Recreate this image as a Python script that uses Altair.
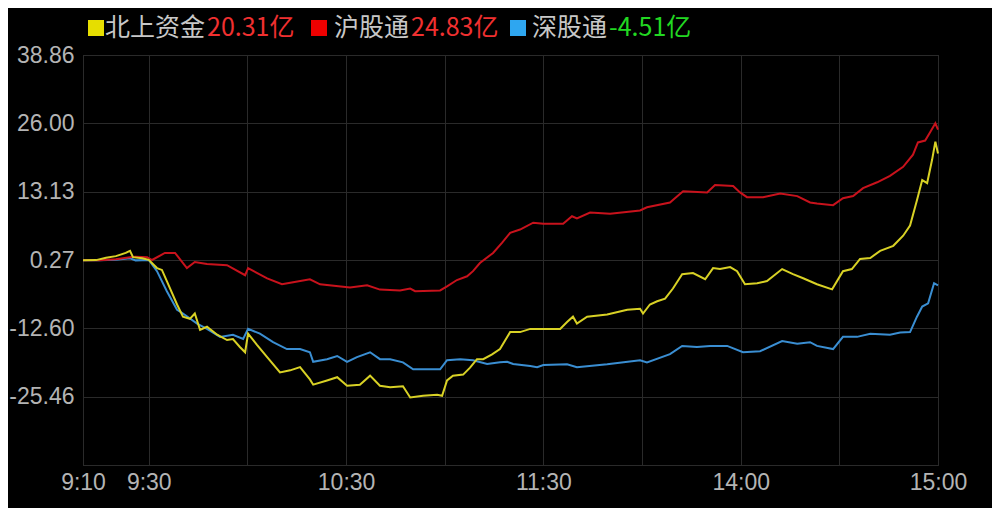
import altair as alt
import pandas as pd

# x: minutes since 9:10 on a compressed trading-time axis (11:30 and 13:00 coincide at 140)
# values in 亿元
north_t = [0, 4, 7, 10, 13, 14.3, 15.2, 18, 20, 22.5, 24, 25.5, 28.6, 30.4, 32.5, 34, 35.6, 37.7,
           40.8, 43.8, 45.6, 47.7, 49.3, 50.2, 52.9, 56, 59.9, 63, 66, 69, 70, 74.2, 77.3, 80.3,
           84.2, 87.3, 90.3, 93.4, 97.3, 99.5, 103.4, 107.7, 109.2, 110.7, 112.5, 115.6, 117.7,
           119.8, 121.7, 124.4, 126.8, 129.9, 132.9, 136, 140, 145.1, 147.2, 149, 150.2, 153.3,
           159.4, 165.5, 169.4, 170.3, 172.4, 174.6, 177, 179.4, 182.2, 185.5, 189.2, 191.6,
           193.7, 196.8, 198.9, 201.3, 205, 208, 212.6, 215.9, 219, 223.2, 227.8, 231.1, 233.8,
           236.3, 239.4, 242.4, 246.4, 249.4, 251.5, 253.6, 255.2, 256.7, 258.2, 259.2, 260]
north_v = [0.2, 0.25, 0.7, 1.0, 1.6, 2.0, 0.8, 0.6, 0.3, -1.25, -1.6, -3.7, -8.1, -10.4, -10.8,
           -9.8, -12.9, -12.3, -13.8, -14.8, -14.6, -16.1, -17.1, -13.6, -15.7, -18.0, -20.9,
           -20.5, -19.9, -22.2, -23.2, -22.4, -21.8, -23.4, -23.2, -21.5, -23.4, -23.7, -23.5,
           -25.6, -25.3, -25.1, -25.3, -22.4, -21.5, -21.3, -20.0, -18.4, -18.4, -17.5, -16.5,
           -13.3, -13.3, -12.7, -12.7, -12.7, -11.4, -10.4, -11.7, -10.4, -10.0, -9.1, -8.9,
           -9.8, -8.1, -7.5, -7.0, -5.1, -2.4, -2.2, -3.35, -1.25, -1.44, -1.06, -1.83, -4.3,
           -4.1, -3.7, -1.44, -2.4, -3.16, -4.3, -5.25, -1.83, -1.44, 0.46, 0.65, 1.98, 2.94,
           4.84, 6.75, 11.51, 15.32, 14.75, 19.13, 22.56, 20.31]

sh_t = [0, 5, 10, 14.3, 16, 19.5, 21, 24.9, 28, 31.6, 34, 37.7, 43.8, 49.3, 50.2, 56, 60.5, 63.9,
        69, 72.1, 81.2, 86.4, 90.3, 96.4, 99.5, 101, 108.6, 110.7, 113.7, 116.8, 118.6, 120.7,
        124.7, 127.4, 129.9, 132.9, 136.9, 140, 146, 148.7, 150.2, 154.2, 160.3, 169.4, 171.5,
        178.5, 180, 182.5, 189.8, 192.2, 197.7, 199.8, 201.9, 206.8, 212, 217.2, 221.1, 223.2,
        228.1, 231.1, 234.2, 237.2, 241.5, 245.4, 249.4, 252.4, 253.9, 256.1, 257.6, 259.2, 260]
sh_v = [0.2, 0.2, 0.4, 0.8, 0.9, 0.8, 0.27, 1.6, 1.6, -1.25, -0.1, -0.5, -0.7, -2.6, -1.25, -3.2,
        -4.3, -3.9, -3.35, -4.3, -4.9, -4.5, -5.3, -5.45, -5.1, -5.6, -5.45, -4.7, -3.5, -2.8,
        -1.83, -0.3, 1.6, 3.5, 5.4, 6.0, 7.3, 7.1, 7.1, 8.5, 8.1, 9.2, 9.0, 9.6, 10.2, 11.1, 11.9,
        13.2, 13.0, 14.4, 14.2, 13.0, 12.1, 12.1, 12.8, 12.3, 11.1, 10.9, 10.6, 11.9, 12.3, 13.8,
        14.9, 16.1, 17.8, 20.1, 22.4, 22.75, 24.3, 26.0, 24.83]

sz_t = [0, 5, 10, 14.3, 16, 20, 22.5, 25.5, 28.6, 30.4, 34.7, 37.7, 41.7, 45.6, 48.7, 50.2, 53.8,
        57.8, 62, 66, 69, 70, 74.2, 77.3, 80.3, 83.3, 87.3, 90.3, 93.4, 97.3, 100.4, 104.6,
        108.6, 110.7, 114.7, 118.6, 122.9, 126.8, 129, 130.8, 136, 138.1, 140, 147.2, 150.2,
        159.4, 169.4, 171.5, 178.5, 182.2, 186.7, 190.7, 195.9, 200.7, 205.9, 212.6, 217.2,
        221.1, 223.2, 228.1, 231.1, 235.4, 239.4, 245.4, 248.5, 251.5, 253.6, 255.2, 257,
        258.8, 260]
sz_v = [0.2, 0.2, 0.3, 0.6, 0.2, 0.27, -1.83, -5.6, -9.1, -9.8, -11.7, -12.7, -14.2, -13.8, -14.6,
        -12.7, -13.6, -15.2, -16.5, -16.5, -17.1, -18.9, -18.4, -17.8, -18.9, -18.0, -17.1,
        -18.4, -18.4, -19.0, -20.3, -20.3, -20.3, -18.6, -18.4, -18.6, -19.3, -19.0, -18.9,
        -19.3, -19.7, -19.9, -19.5, -19.35, -19.9, -19.35, -18.6, -19.0, -17.45, -15.9, -16.1,
        -15.9, -15.9, -17.1, -16.9, -15.0, -15.5, -15.2, -15.9, -16.5, -14.2, -14.2, -13.6,
        -13.8, -13.4, -13.3, -10.4, -8.5, -7.9, -4.1, -4.51]

series_names = ["北上资金", "沪股通", "深股通"]
line_colors = ["#d8d125", "#c8121c", "#3a8ed2"]
swatch_colors = ["#e6de00", "#ee0000", "#2ea6f0"]

y_ticks = [-38.32, -25.46, -12.60, 0.27, 13.13, 26.00, 38.86]
y_labels = ["", "-25.46", "-12.60", "0.27", "13.13", "26.00", "38.86"]
x_ticks = [0, 20, 50, 80, 110, 140, 170, 200, 230, 260]
x_labels = ["9:10", "9:30", "", "10:30", "", "11:30", "", "14:00", "", "15:00"]


def label_expr(values, labels):
    expr = "''"
    for v, l in zip(values, labels):
        expr = f"abs(datum.value - ({v})) < 0.001 ? '{l}' : ({expr})"
    return expr


frames = []
for name, t, v in zip(series_names, [north_t, sh_t, sz_t], [north_v, sh_v, sz_v]):
    frames.append(pd.DataFrame({"t": t, "v": v, "name": name}))

x_enc = alt.X("t:Q", scale=alt.Scale(domain=[0, 260], nice=False, zero=False),
              axis=alt.Axis(values=x_ticks, labelExpr=label_expr(x_ticks, x_labels), title=None,
                            labelPadding=6, labelOverlap=False, labelBound=False, labelFlush=False))
y_enc = alt.Y("v:Q", scale=alt.Scale(domain=[-38.32, 38.86], nice=False, zero=False),
              axis=alt.Axis(values=y_ticks, labelExpr=label_expr(y_ticks, y_labels), title=None,
                            labelPadding=9, labelOverlap=False, labelBound=False, labelFlush=False))

layers = []
for idx in [2, 1, 0]:
    layers.append(
        alt.Chart(frames[idx]).mark_line(strokeWidth=2, color=line_colors[idx]).encode(
            x=x_enc, y=y_enc, order="t:Q")
    )

# legend row above plot
one = pd.DataFrame({"k": [0]})
finals = [north_v[-1], sh_v[-1], sz_v[-1]]
value_colors = ["#f03030", "#f03030", "#22d822"]
sq_x = [5, 228, 427]
name_x = [22, 251, 449]
val_x = [124, 328, 526]
for i in range(3):
    layers.append(alt.Chart(one).mark_rect(color=swatch_colors[i]).encode(
        x=alt.value(sq_x[i]), x2=alt.value(sq_x[i] + 16), y=alt.value(-35), y2=alt.value(-19)))
    layers.append(alt.Chart(one).mark_text(
        align="left", baseline="middle", font="Noto Sans CJK SC", fontSize=25,
        color="#c8c8c8").encode(x=alt.value(name_x[i]), y=alt.value(-27),
                                text=alt.value(series_names[i])))
    layers.append(alt.Chart(one).mark_text(
        align="left", baseline="middle", font="Noto Sans CJK SC", fontSize=25,
        color=value_colors[i]).encode(x=alt.value(val_x[i]), y=alt.value(-27),
                                      text=alt.value(f"{finals[i]:.2f}亿")))

chart = alt.layer(*layers).properties(
    width=855, height=410,
    autosize=alt.AutoSizeParams(type="none"),
    padding={"left": 75, "top": 47, "right": 54, "bottom": 43},
    background="#000000",
).configure_view(
    stroke="#3a3a3a", strokeWidth=1
).configure_axis(
    domain=False, ticks=False, grid=True, gridColor="#2a2a2a", gridWidth=1,
    labelColor="#b4b4b4", labelFont="Liberation Sans", labelFontSize=23,
)

chart.save("out.html", embed_options={"renderer": "svg", "actions": False})
